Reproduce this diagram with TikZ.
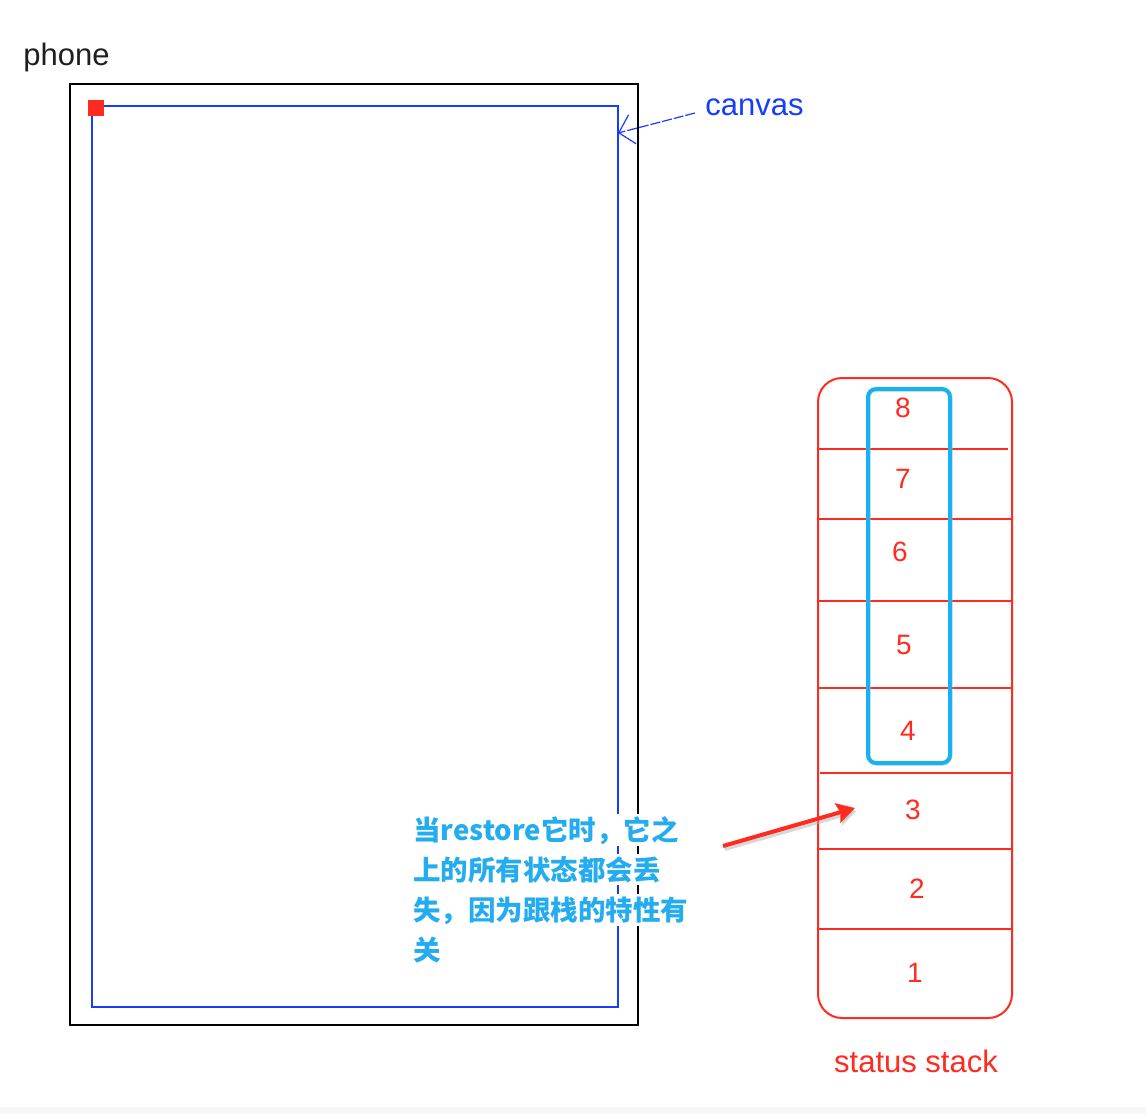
\documentclass[tikz,border=0pt]{standalone}
\usepackage{fontspec}
\setmainfont{Liberation Sans}
\newfontfamily\cjk{Noto Sans CJK SC}
\usetikzlibrary{arrows.meta}
\definecolor{canvasblue}{RGB}{22,60,255}
\definecolor{stackred}{RGB}{255,42,32}
\definecolor{hiliteblue}{RGB}{22,178,242}
\definecolor{notecol}{RGB}{36,172,240}
\tikzset{
  lbl/.style={inner sep=0pt, font=\fontsize{15.5}{18}\selectfont},
  digit/.style={inner sep=0pt, text=stackred, font=\fontsize{14}{16}\selectfont},
  cellline/.style={draw=stackred, line width=1pt},
  notetext/.style={inner sep=1pt, fill=white, anchor=base west, text=notecol, font=\cjk\bfseries\fontsize{13.75}{20}\selectfont},
}
\begin{document}
\begin{tikzpicture}[x=0.5pt,y=-0.5pt]
\useasboundingbox (0,0) rectangle (1146,1114);
\fill[white] (0,0) rectangle (1146,1114);
\fill[black!3] (0,1107) rectangle (1146,1114);

% phone
\node[lbl, anchor=base west, text=black!88] (phonelabel) at (23,65) {phone};
\node[draw=black, line width=1pt, inner sep=0pt, minimum width=284pt, minimum height=470.5pt, anchor=north west] (phone) at (69,83) {};
\node[draw=canvasblue, line width=1pt, inner sep=0pt, minimum width=263pt, minimum height=450.5pt, anchor=north west] (canvas) at (91,105) {};
\node[fill=stackred, inner sep=0pt, minimum size=8pt, anchor=north west] (origin) at (88,100) {};

% canvas label
\node[lbl, anchor=base west, text=canvasblue] (canvaslabel) at (705,115) {canvas};
\coordinate (cstart) at (695,113);
\coordinate (ctip) at (618,133);
\draw[canvasblue, line width=0.6pt, dash pattern=on 5pt off 1pt, -{Straight Barb[length=7pt,width=15pt]}] (cstart) -- (ctip);

% status stack
\node[draw=stackred, line width=1pt, rounded corners=12pt, inner sep=0pt, minimum width=97pt, minimum height=320pt, anchor=north west] (stack) at (817,377) {};
\draw[cellline] (817,449) -- (1008,449);
\draw[cellline] (817,519) -- (1013,519);
\draw[cellline] (817,601) -- (1013,601);
\draw[cellline] (817,688) -- (1013,688);
\draw[cellline] (820,773) -- (1013,773);
\draw[cellline] (817,849) -- (1013,849);
\draw[cellline] (817,929) -- (1011,929);

% highlighted group (shadow + box)
\draw[black!25, line width=2pt, rounded corners=4pt, opacity=0.6] (868.5,389.5) rectangle (950.5,763.5);
\node[draw=hiliteblue, line width=2pt, rounded corners=4pt, inner sep=0pt, minimum width=41pt, minimum height=187pt, anchor=north west] (upper) at (866,387) {};

\node[digit] (d8) at (903,408) {8};
\node[digit] (d7) at (903,479) {7};
\node[digit] (d6) at (900,552) {6};
\node[digit] (d5) at (904,645) {5};
\node[digit] (d4) at (908,731) {4};
\node[digit] (d3) at (913,810) {3};
\node[digit] (d2) at (917,889) {2};
\node[digit] (d1) at (915,973) {1};

\node[lbl, anchor=base, text=stackred] (stacklabel) at (916,1072) {status stack};

% red pointer arrow
\coordinate (atail) at (723,846);
\coordinate (atip) at (855,808);
\coordinate (stail) at (724.5,849);
\coordinate (stip) at (856.5,811);
\draw[black!30, opacity=0.5, line width=2pt, -{Stealth[length=9pt,width=10pt,inset=1.5pt]}] (stail) -- (stip);
\draw[stackred, line width=2pt, -{Stealth[length=9pt,width=10pt,inset=1.5pt]}] (atail) -- (atip);

% note
\node[notetext] (note1) at (411,840) {当restore它时，它之};
\node[notetext] (note2) at (411,880) {上的所有状态都会丢};
\node[notetext] (note3) at (411,920) {失，因为跟栈的特性有};
\node[notetext] (note4) at (411,960) {关};
\end{tikzpicture}
\end{document}
